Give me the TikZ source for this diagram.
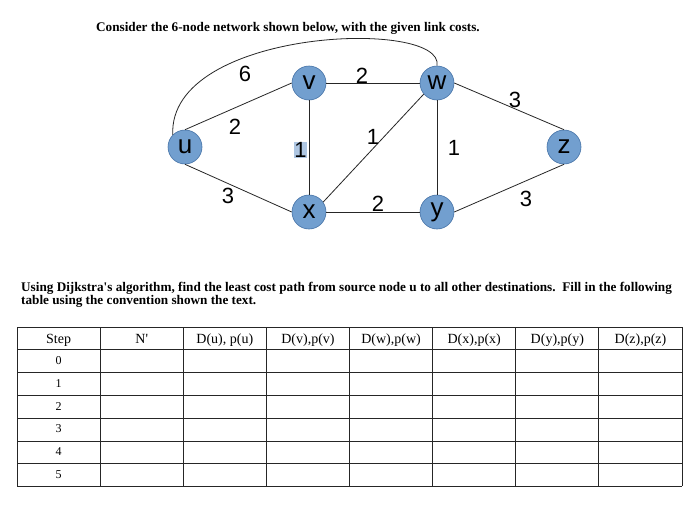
\documentclass[tikz,border=0pt]{standalone}
\usepackage{fontspec}
\setmainfont{Liberation Serif}
\newfontfamily\gsans{Liberation Sans}
\definecolor{nodeblue}{RGB}{114,159,207}
\definecolor{nodeedge}{RGB}{69,114,167}
\definecolor{hl}{RGB}{174,198,226}
\begin{document}
\begin{tikzpicture}[x=1pt,y=-1pt,
  vtx/.style={circle,fill=nodeblue,draw=nodeedge,line width=0.6pt,minimum size=34pt,inner sep=0pt,font=\gsans\fontsize{26}{26}\selectfont},
  lnk/.style={line width=0.8pt,black!85},
  cost/.style={font=\gsans\fontsize{22}{22}\selectfont,inner sep=0pt},
  bodytext/.style={anchor=base west,inner sep=0pt,font=\bfseries\fontsize{13.2}{15}\selectfont},
  grid/.style={line width=0.9pt,black!85},
  cell/.style={anchor=base,inner sep=0pt,font=\fontsize{14}{16}\selectfont}]
\useasboundingbox[fill=white] (0,0) rectangle (700,514);

% title
\node[bodytext] (title) at (96,31) {Consider the 6-node network shown below, with the given link costs.};

% vertices
\node[vtx] (u) at (185,147) {u};
\node[vtx] (v) at (309,83) {v};
\node[vtx] (w) at (437,83) {w};
\node[vtx] (x) at (309,212) {x};
\node[vtx] (y) at (437,212) {y};
\node[vtx] (z) at (564,147) {z};

% links
\draw[lnk] (u.north) -- (v.west);
\draw[lnk] (u.south) -- (x.west);
\draw[lnk] (v) -- (w);
\draw[lnk] (v) -- (x);
\draw[lnk] (x.35) -- (w.220);
\draw[lnk] (x) -- (y);
\draw[lnk] (w) -- (y);
\draw[lnk] (w.east) -- (z.north);
\draw[lnk] (y.east) -- (z.south);
\draw[lnk] (u.135) .. controls (168,28) and (445,18) .. (w.north);

% costs
\node[cost] (c6)  at (245,73.5) {6};
\node[cost] (cvw) at (362,76) {2};
\node[cost] (cuv) at (235,127) {2};
\node[cost,fill=hl,inner xsep=0.5pt,inner ysep=0.5pt] (cvx) at (300.5,150) {1};
\node[cost] (cxw) at (373,137) {1};
\node[cost] (cwy) at (454,148) {1};
\node[cost] (cux) at (228,196) {3};
\node[cost] (cxy) at (378,204) {2};
\node[cost] (cwz) at (515,100) {3};
\node[cost] (cyz) at (526,199) {3};

% question text
\node[bodytext] (q1) at (21,291) {Using Dijkstra\textquotesingle s algorithm, find the least cost path from source node u to all other destinations.\ \ Fill in the following};
\node[bodytext] (q2) at (21,304) {table using the convention shown the text.};

% table grid
\foreach \yy in {327,349,372,395,418,441,463,486}
  \draw[grid] (17,\yy) -- (682,\yy);
\foreach \xx in {17,100.1,183.3,266.4,349.5,432.6,515.8,598.9,682}
  \draw[grid] (\xx,327) -- (\xx,486);

% header
\foreach \t [count=\i from 0] in {Step,N\textquotesingle,{D(u), p(u)},{D(v),p(v)},{D(w),p(w)},{D(x),p(x)},{D(y),p(y)},{D(z),p(z)}}
  \node[cell] (h\i) at ({58.6+83.125*\i},343.5) {\t};
% step numbers
\foreach \n [count=\r from 0] in {0,1,2,3,4,5}
  \node[cell,font=\fontsize{12}{13}\selectfont] (s\n) at (58.6,{364.5+22.8*\r}) {\n};
\end{tikzpicture}
\end{document}
